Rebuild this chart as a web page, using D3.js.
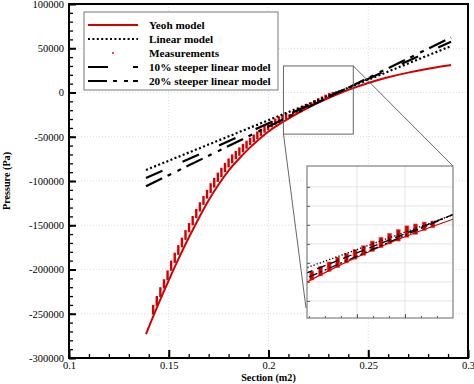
<!DOCTYPE html>
<html><head><meta charset="utf-8">
<script src="https://cdn.jsdelivr.net/npm/d3@7"></script>
<style>body{margin:0;background:#fff} svg{display:block} text{font-family:"Liberation Serif","Times New Roman",serif}</style>
</head><body><svg id="c" width="474" height="384"></svg>
<script>
// ---------- data ----------
const yeohX = [0.1386,0.14,0.145,0.15,0.155,0.16,0.165,0.17,0.175,0.18,0.185,0.19,0.195,0.2,0.205,0.21,0.215,0.22,0.225,0.23,0.235,0.24,0.25,0.26,0.27,0.28,0.29,0.2915];
const yeohY = [-273000,-265200,-238000,-212200,-187500,-164200,-142300,-121700,-104000,-88200,-75400,-63700,-53300,-44000,-36300,-29500,-23000,-17000,-11400,-6250,-1500,3000,10750,17150,22450,26850,30550,31000];
const linX = [0.1386, 0.2915];
const linearY = [-87500, 52500];
const steep10Y = [-96700, 57300];
const steep20Y = [-105900, 62100];
const measX = [0.1422,0.1440,0.1458,0.1476,0.1494,0.1512,0.1530,0.1548,0.1566,0.1584,0.1602,0.1620,0.1638,0.1656,0.1674,0.1692,0.1710,0.1728,0.1746,0.1764,0.1782,0.1800,0.1818,0.1836,0.1854,0.1872,0.1890,0.1908,0.1926,0.1944,0.1962,0.1980,0.1998,0.2016,0.2034,0.2052,0.2070,0.2088,0.2106,0.2124,0.2142,0.2160,0.2178,0.2196,0.2214,0.2232,0.2250,0.2268,0.2286,0.2304,0.2322,0.2340,0.2358];
const measLo = [-251000,-241000,-231000,-221500,-212000,-201500,-192500,-183500,-175000,-166500,-158000,-150000,-142000,-134500,-127000,-120000,-113500,-107500,-101000,-95500,-90000,-84500,-80000,-75500,-71500,-67500,-63500,-59500,-56000,-52500,-49000,-45500,-42500,-39500,-37000,-34500,-32000,-30000,-29000,-26800,-24500,-22500,-20000,-18000,-16000,-14000,-12000,-10000,-8500,-6500,-5000,-3000,-1500];
const measHi = [-240000,-230000,-220000,-211000,-201000,-190000,-181000,-172500,-164000,-155500,-147500,-139500,-131500,-124000,-117000,-110000,-102500,-96500,-90500,-85000,-79500,-74500,-70000,-66000,-62000,-58000,-54500,-51000,-47500,-44000,-41000,-38000,-35000,-32000,-29500,-27000,-25000,-23000,-24500,-22000,-19500,-17000,-15000,-13000,-11000,-8500,-6500,-4500,-2500,-500,500,1500,2000];
const xTickValues = [0.1,0.15,0.2,0.25,0.3];
const xTickLabels = ["0.1","0.15","0.2","0.25","0.3"];
const yTickValues = [100000,50000,0,-50000,-100000,-150000,-200000,-250000,-300000];
const yTickLabels = ["100000","50000","0","-50000","-100000","-150000","-200000","-250000","-300000"];
const legendLabels = ["Yeoh model","Linear model","Measurements","10% steeper linear model","20% steeper linear model"];
const zoomBoxX = [0.2075, 0.2425];
const zoomBoxY = [-47000, 30000];
const insetX = [0.2096, 0.2400];
const insetY = [-49000, 31000];
const insetGridX = [0.22, 0.23];
const insetGridY = [20000,10000,0,-10000,-20000,-30000,-40000];

// ---------- styles ----------
const RED = "#d40000";
const svg = d3.select("#c");
const L = 69, R = 468, T = 4, B = 358;
const x = d3.scaleLinear().domain([0.1, 0.3]).range([L, R]);
const y = d3.scaleLinear().domain([-300000, 100000]).range([B, T]);

svg.append("defs").append("clipPath").attr("id","pc").append("rect")
  .attr("x",L).attr("y",T).attr("width",R-L).attr("height",B-T);

// grid
const grid = svg.append("g").attr("stroke","#d4d4d4").attr("stroke-width",0.8).attr("stroke-dasharray","1,2");
xTickValues.slice(1,-1).forEach(v=>grid.append("line").attr("x1",x(v)).attr("x2",x(v)).attr("y1",T).attr("y2",B));
yTickValues.slice(1,-1).forEach(v=>grid.append("line").attr("x1",L).attr("x2",R).attr("y1",y(v)).attr("y2",y(v)));

// axes
function styleAxis(g){ g.select(".domain").remove(); g.selectAll("line").attr("stroke","#000").attr("stroke-width",1.3);
  g.selectAll("text").attr("font-family","'Liberation Serif',serif").attr("font-size",10.5).attr("fill","#000"); g.attr("font-family",null).attr("font-size",null);}
svg.append("g").attr("transform",`translate(0,${B})`)
  .call(d3.axisBottom(x).tickValues(d3.range(0.1,0.3001,0.01)).tickFormat("").tickSizeInner(-4).tickSizeOuter(0)).call(styleAxis);
svg.append("g").attr("transform",`translate(0,${B})`)
  .call(d3.axisBottom(x).tickValues(xTickValues).tickFormat((d,i)=>xTickLabels[i]).tickSizeInner(-8).tickSizeOuter(0).tickPadding(4)).call(styleAxis)
  .selectAll("line").attr("stroke-width",2);
svg.append("g").attr("transform",`translate(${L},0)`)
  .call(d3.axisLeft(y).tickValues(d3.range(-300000,100001,10000)).tickFormat("").tickSizeInner(-4).tickSizeOuter(0)).call(styleAxis);
svg.append("g").attr("transform",`translate(${L},0)`)
  .call(d3.axisLeft(y).tickValues(yTickValues).tickFormat((d,i)=>yTickLabels[i]).tickSizeInner(-7).tickSizeOuter(0).tickPadding(5)).call(styleAxis)
  .selectAll("line").attr("stroke-width",2);

// axis titles
svg.append("text").attr("x",(L+R)/2).attr("y",381).attr("text-anchor","middle")
  .attr("font-weight","bold").attr("font-size",10.2).text("Section (m2)");
svg.append("text").attr("transform",`translate(10,${(T+B)/2}) rotate(-90)`).attr("text-anchor","middle")
  .attr("font-weight","bold").attr("font-size",10.2).text("Pressure (Pa)");

// ---------- series drawing ----------
function drawSeries(g, sx, sy, scale){
  const s = scale;
  g.selectAll(null).data(measX).enter().append("rect")
    .attr("x",(d)=>sx(d)-(s>1?2:1.2)).attr("width",s>1?4:2.4)
    .attr("y",(d,i)=>sy(measHi[i])).attr("height",(d,i)=>Math.max(1,sy(measLo[i])-sy(measHi[i])))
    .attr("fill",RED).attr("stroke",s>1?"#e06060":"none").attr("stroke-width",0.6);
  const yeoh = d3.line().x(d=>sx(d[0])).y(d=>sy(d[1])).curve(d3.curveMonotoneX);
  g.append("path").attr("d",yeoh(yeohX.map((v,i)=>[v,yeohY[i]])))
    .attr("fill","none").attr("stroke",RED).attr("stroke-width",s>1?1.2:2);
  const lin = d3.line().x(d=>sx(d[0])).y(d=>sy(d[1]));
  const w = s>1?1.3:2.2;
  g.append("path").attr("d",lin(linX.map((v,i)=>[v,linearY[i]])))
    .attr("fill","none").attr("stroke","#000").attr("stroke-width",w).attr("stroke-dasharray",s>1?"1.3,2":"2,2.4");
  g.append("path").attr("d",lin(linX.map((v,i)=>[v,steep10Y[i]])))
    .attr("fill","none").attr("stroke","#000").attr("stroke-width",w).attr("stroke-dasharray",s>1?"9,5":"18,22");
  g.append("path").attr("d",lin(linX.map((v,i)=>[v,steep20Y[i]])))
    .attr("fill","none").attr("stroke","#000").attr("stroke-width",w).attr("stroke-dasharray",s>1?"9,3,2,3,2,3":"18,6,4,7,4,6");
}
drawSeries(svg.append("g").attr("clip-path","url(#pc)"), x, y, 1);

// zoom box
svg.append("rect").attr("x",x(zoomBoxX[0])).attr("y",y(zoomBoxY[1]))
  .attr("width",x(zoomBoxX[1])-x(zoomBoxX[0])).attr("height",y(zoomBoxY[0])-y(zoomBoxY[1]))
  .attr("fill","none").attr("stroke","#666").attr("stroke-width",1);

// inset
const IL=307, IR=453, IT=166, IB=318;
const xi = d3.scaleLinear().domain(insetX).range([IL,IR]);
const yi = d3.scaleLinear().domain(insetY).range([IB,IT]);
svg.append("line").attr("x1",x(zoomBoxX[1])).attr("y1",y(zoomBoxY[1])).attr("x2",IR).attr("y2",IT).attr("stroke","#555").attr("stroke-width",0.9);
svg.append("line").attr("x1",x(zoomBoxX[0])).attr("y1",y(zoomBoxY[0])).attr("x2",IL-1).attr("y2",IB-10).attr("stroke","#555").attr("stroke-width",0.9);
svg.append("rect").attr("x",IL).attr("y",IT).attr("width",IR-IL).attr("height",IB-IT).attr("fill","#fff");
svg.append("defs").append("clipPath").attr("id","ic").append("rect")
  .attr("x",IL).attr("y",IT).attr("width",IR-IL).attr("height",IB-IT);
const ig = svg.append("g").attr("stroke","#ddd").attr("stroke-width",0.8);
insetGridX.forEach(v=>ig.append("line").attr("x1",xi(v)).attr("x2",xi(v)).attr("y1",IT).attr("y2",IB));
insetGridY.forEach(v=>ig.append("line").attr("x1",IL).attr("x2",IR).attr("y1",yi(v)).attr("y2",yi(v)));
svg.append("g").attr("transform",`translate(${IL},0)`)
  .call(d3.axisLeft(yi).tickValues(insetGridY).tickFormat("").tickSizeInner(-3).tickSizeOuter(0)).call(styleAxis)
  .selectAll("line").attr("stroke-width",0.8).attr("stroke","#333");
svg.append("g").attr("transform",`translate(0,${IB})`)
  .call(d3.axisBottom(xi).tickValues(d3.range(0.2100,0.2400,0.01/3)).tickFormat("").tickSizeInner(-2).tickSizeOuter(0)).call(styleAxis)
  .selectAll("line").attr("stroke-width",0.8).attr("stroke","#333");
svg.append("g").attr("transform",`translate(0,${IB})`)
  .call(d3.axisBottom(xi).tickValues(insetGridX).tickFormat("").tickSizeInner(-4).tickSizeOuter(0)).call(styleAxis)
  .selectAll("line").attr("stroke-width",0.8).attr("stroke","#333");
drawSeries(svg.append("g").attr("clip-path","url(#ic)"), xi, yi, 2);
svg.append("rect").attr("x",IL).attr("y",IT).attr("width",IR-IL).attr("height",IB-IT)
  .attr("fill","none").attr("stroke","#666").attr("stroke-width",1);

// frame
svg.append("rect").attr("x",L).attr("y",T).attr("width",R-L).attr("height",B-T)
  .attr("fill","none").attr("stroke","#000").attr("stroke-width",2);

// legend
const lg = svg.append("g");
lg.append("rect").attr("x",84).attr("y",12).attr("width",194).attr("height",78)
  .attr("fill","#fff").attr("stroke","#777").attr("stroke-width",1);
const rows = [25,39,53,67,81];
const lx1 = 88, lx2 = 138;
lg.append("line").attr("x1",lx1).attr("x2",lx2).attr("y1",rows[0]).attr("y2",rows[0]).attr("stroke",RED).attr("stroke-width",2);
lg.append("line").attr("x1",lx1).attr("x2",lx2).attr("y1",rows[1]).attr("y2",rows[1]).attr("stroke","#000").attr("stroke-width",2).attr("stroke-dasharray","2,2.4");
lg.append("rect").attr("x",112).attr("y",rows[2]-1).attr("width",2).attr("height",2).attr("fill","#e05050");
lg.append("line").attr("x1",lx1).attr("x2",lx2).attr("y1",rows[3]).attr("y2",rows[3]).attr("stroke","#000").attr("stroke-width",2.2).attr("stroke-dasharray","20,25");
lg.append("line").attr("x1",lx1).attr("x2",lx2).attr("y1",rows[4]).attr("y2",rows[4]).attr("stroke","#000").attr("stroke-width",2.2).attr("stroke-dasharray","19,6,4,7,4,5");
legendLabels.forEach((t,i)=>lg.append("text").attr("x",149).attr("y",rows[i]+4).attr("font-weight","bold").attr("font-size",11.2).text(t));
</script></body></html>
